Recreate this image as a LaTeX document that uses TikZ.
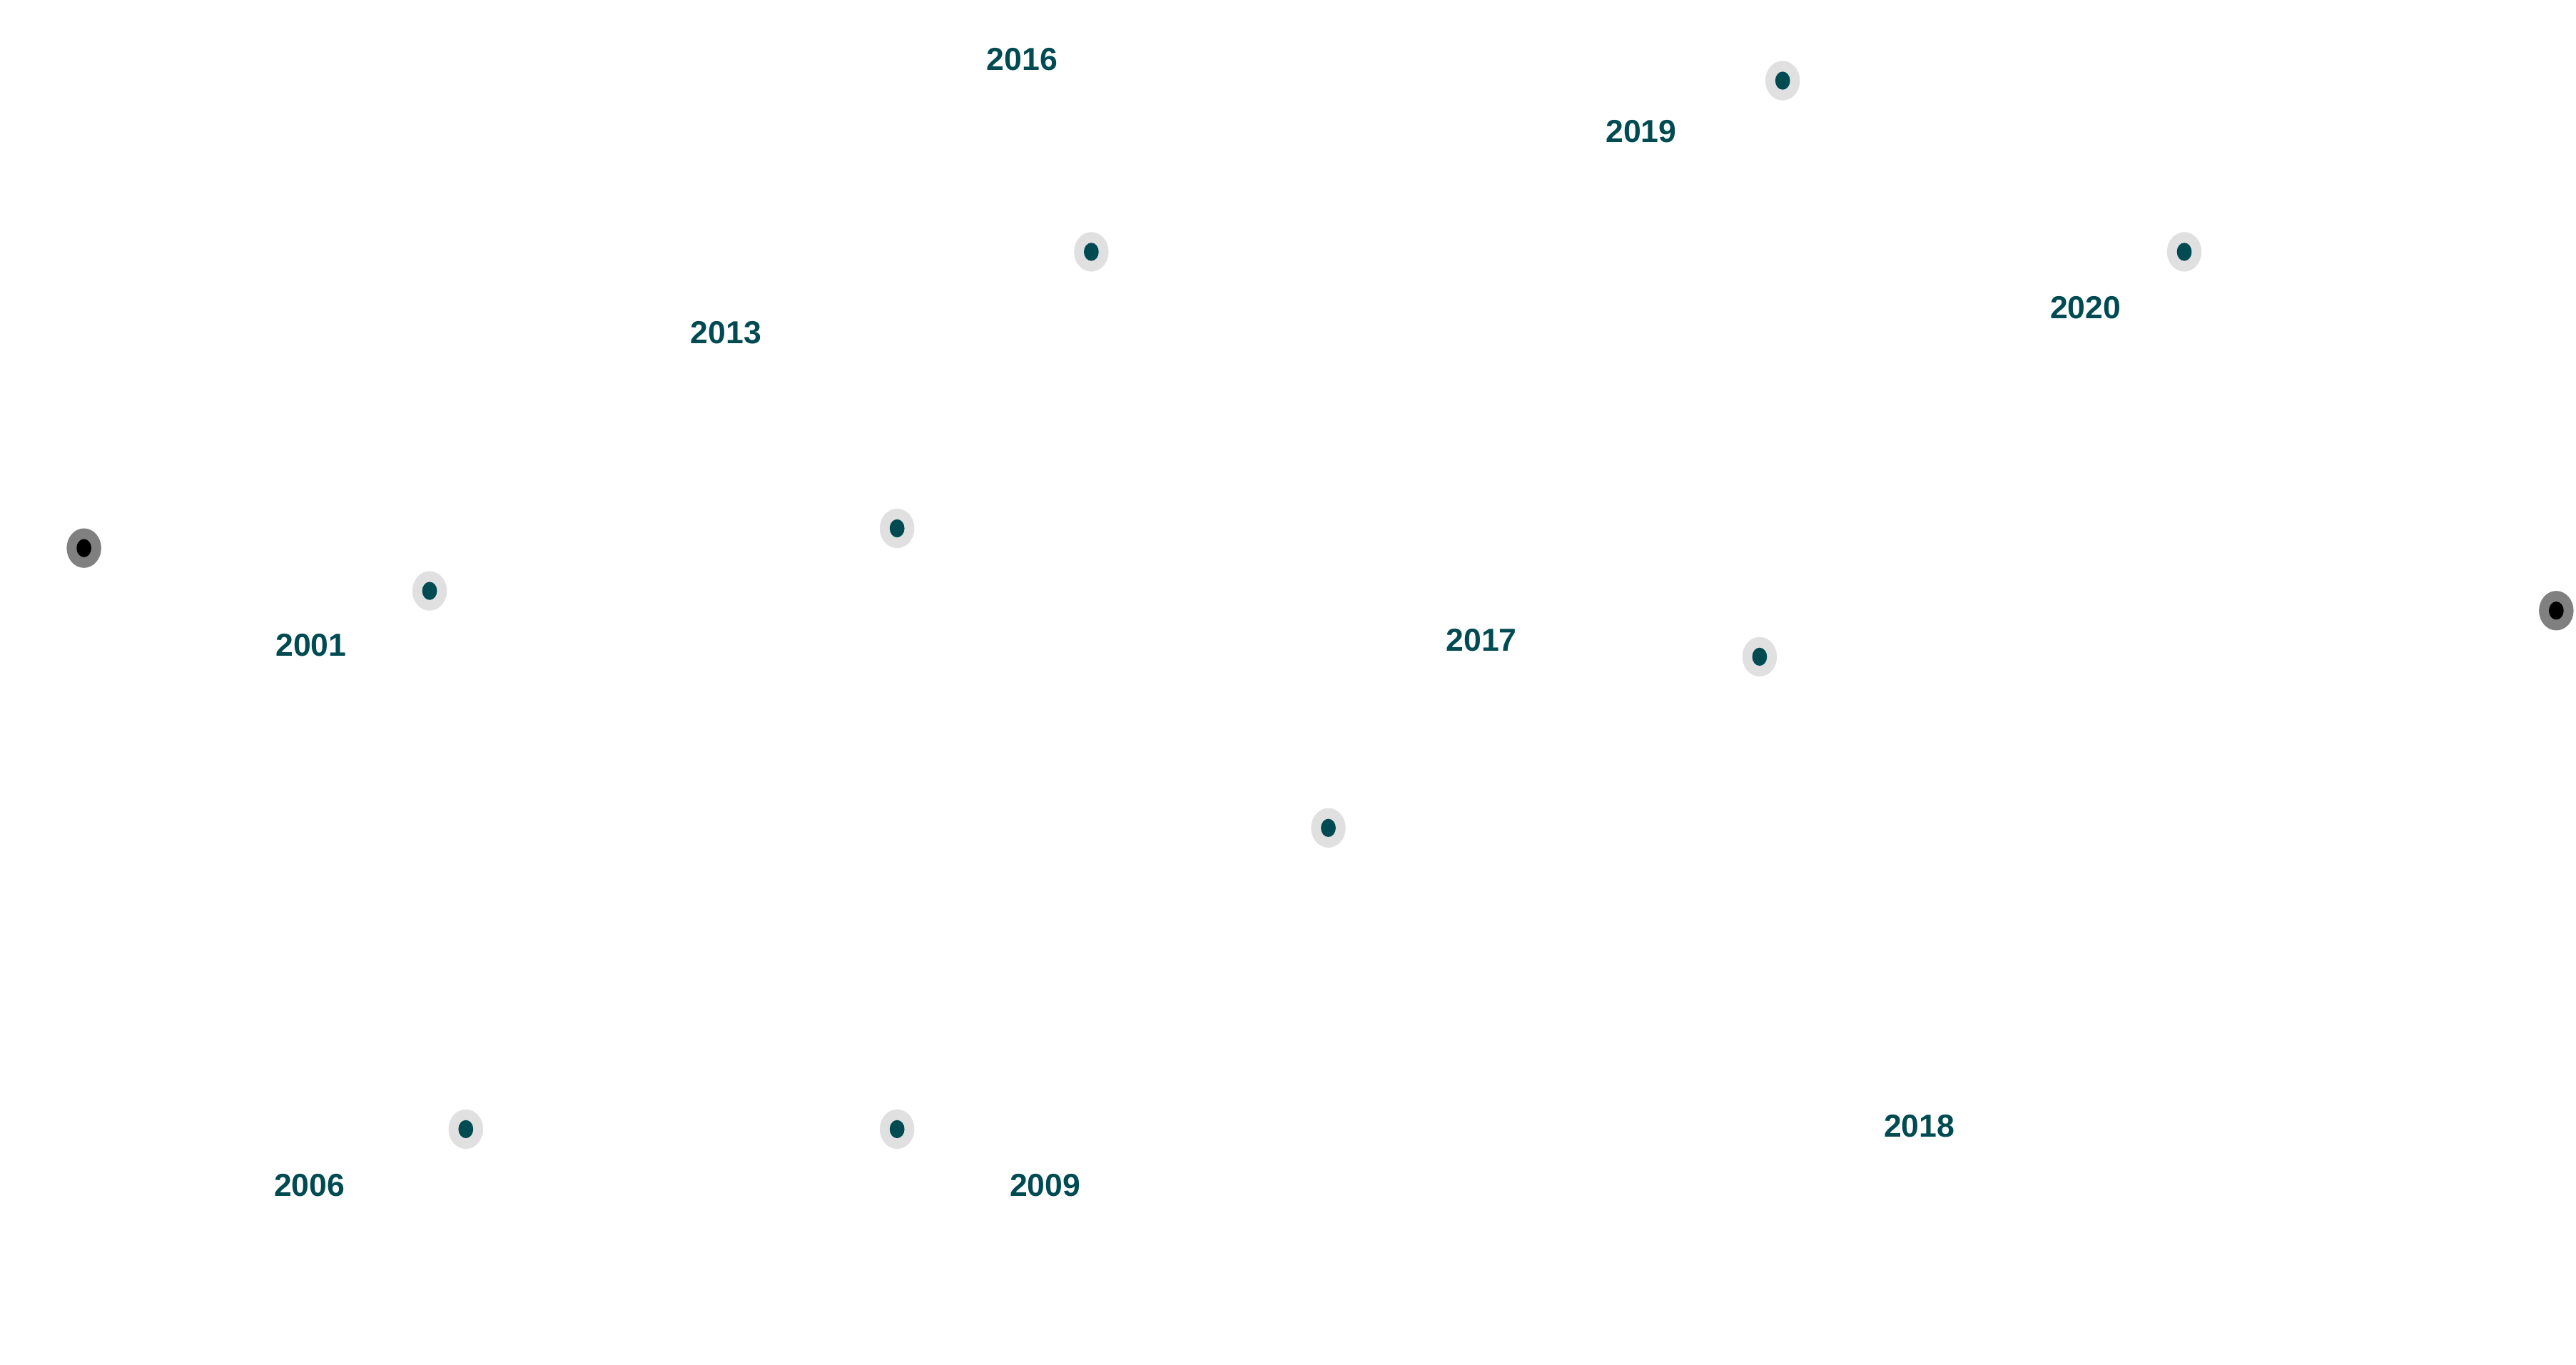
\documentclass[tikz,border=0pt]{standalone}
\usepackage{fontspec}
\setmainfont{Liberation Sans}
\begin{document}
\begin{tikzpicture}[x=0.02cm,y=-0.02cm,
  lbl/.style={font=\fontsize{11}{13}\selectfont\bfseries,text=teal!60!black!90,inner sep=0},
  halo/.style={fill=black!12,draw=none,ellipse},
  core/.style={fill=teal!60!black!90}]
\definecolor{tl}{HTML}{004A52}
\tikzset{lbl/.append style={text=tl},core/.style={fill=tl}}
\useasboundingbox[fill=white] (0,0) rectangle (1565,829);
\foreach \n/\x/\y in {a/663/153,b/1083/49,c/1327/153,d/545/321,e/261/359,f/1069/399,g/807/503,h/283/686,i/545/686}{
  \coordinate (\n) at (\x,\y);
  \fill[black!12] (\n) ellipse [x radius=10.5,y radius=12];
  \fill[core] (\n) ellipse [x radius=4.5,y radius=5.5];
}
\foreach \n/\x/\y in {s/51/333,t/1553/371}{
  \coordinate (\n) at (\x,\y);
  \fill[black!50] (\n) ellipse [x radius=10.5,y radius=12];
  \fill[black] (\n) ellipse [x radius=4.5,y radius=5.5];
}
\node[lbl] (l2016) at (621,36) {2016};
\node[lbl] (l2019) at (997,80) {2019};
\node[lbl] (l2020) at (1267,187) {2020};
\node[lbl] (l2013) at (441,202) {2013};
\node[lbl] (l2001) at (189,392) {2001};
\node[lbl] (l2017) at (900,389) {2017};
\node[lbl] (l2018) at (1166,684) {2018};
\node[lbl] (l2006) at (188,720) {2006};
\node[lbl] (l2009) at (635,720) {2009};
\end{tikzpicture}
\end{document}
